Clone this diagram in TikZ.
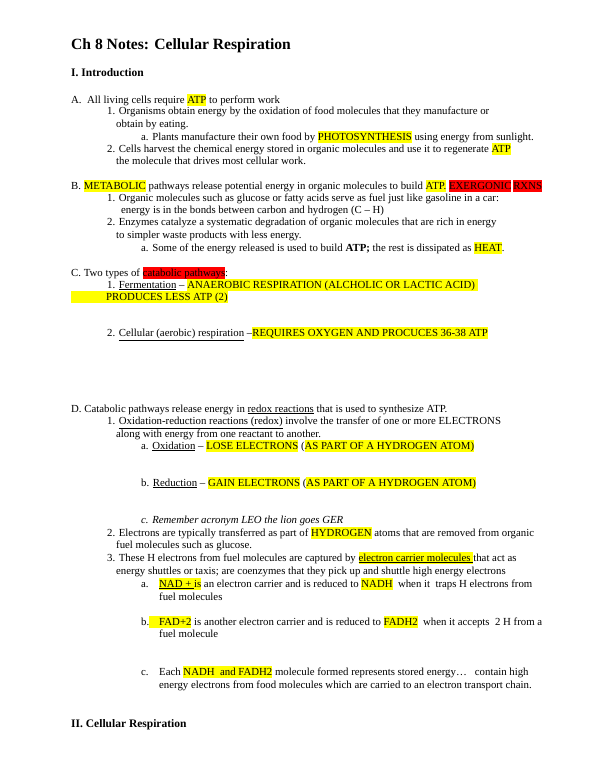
\documentclass[tikz,border=0pt]{standalone}
\usepackage{fontspec}
\setmainfont{Liberation Serif}
\definecolor{hlyellow}{RGB}{255,255,0}
\definecolor{hlred}{RGB}{255,0,0}
\newcommand{\hl}[1]{{\setlength{\fboxsep}{0pt}\colorbox{hlyellow}{\rule[-2.8pt]{0pt}{11.8pt}#1}}}
\newcommand{\hlr}[1]{{\setlength{\fboxsep}{0pt}\colorbox{hlred}{\rule[-2.8pt]{0pt}{11.8pt}#1}}}
\tikzset{
  txt/.style={anchor=base west, inner sep=0pt, font=\fontsize{10.8}{12.5}\selectfont},
  head/.style={anchor=base west, inner sep=0pt, font=\fontsize{11.5}{13}\selectfont\bfseries}
}
\begin{document}
\begin{tikzpicture}[x=1pt,y=-1pt]
    \useasboundingbox[fill=white] (0,0) rectangle (600,776);

    % Title
    \node[anchor=base west, inner sep=0pt, font=\fontsize{15.6}{18}\selectfont\bfseries] (title) at (71,50) {Ch 8 Notes: Cellular Respiration};
    \node[head] (intro) at (71,77) {I. Introduction};

    % Part A
    \node[txt] (a0) at (71,103) {A.\ \ All living cells require \hl{ATP} to perform work};
    \node[txt] (a1) at (107,114) {1. Organisms obtain energy by the oxidation of food molecules that they manufacture or};
    \node[txt] (a1b) at (116,127) {obtain by eating.};
    \node[txt] (a1a) at (141,140) {a. Plants manufacture their own food by \hl{PHOTOSYNTHESIS} using energy from sunlight.};
    \node[txt] (a2) at (107,152) {2. Cells harvest the chemical energy stored in organic molecules and use it to regenerate \hl{ATP}};
    \node[txt] (a2b) at (116,164) {the molecule that drives most cellular work.};

    % Part B
    \node[txt] (b0) at (71,189) {B. \hl{METABOLIC} pathways release potential energy in organic molecules to build \hl{ATP.}\ \hlr{EXERGONIC}\,\hlr{RXNS}};
    \node[txt] (b1) at (107,201) {1. Organic molecules such as glucose or fatty acids serve as fuel just like gasoline in a car:};
    \node[txt] (b1b) at (121,213) {energy is in the bonds between carbon and hydrogen (C -- H)};
    \node[txt] (b2) at (107,225) {2. Enzymes catalyze a systematic degradation of organic molecules that are rich in energy};
    \node[txt] (b2b) at (116,238) {to simpler waste products with less energy.};
    \node[txt] (b2a) at (141,251) {a. Some of the energy released is used to build \textbf{ATP;} the rest is dissipated as \hl{HEAT}.};

    % Part C
    \node[txt] (c0) at (71,276) {C. Two types of \hlr{catabolic pathways}:};
    \node[txt] (c1) at (107,288) {1. \underline{Fermentation} -- \hl{ANAEROBIC RESPIRATION (ALCHOLIC OR LACTIC ACID)\ }};
    \node[txt] (c1b) at (71,300) {\hl{\hspace{35pt}PRODUCES LESS ATP (2)}};
    \node[txt] (c2) at (107,336) {2. \underline{Cellular (aerobic) respiration} --\hl{REQUIRES OXYGEN AND PROCUCES 36-38 ATP}};

    % Part D
    \node[txt] (d0) at (71,412) {D. Catabolic pathways release energy in \underline{redox reactions} that is used to synthesize ATP.};
    \node[txt] (d1) at (107,424) {1. \underline{Oxidation-reduction reactions (redox)} involve the transfer of one or more ELECTRONS};
    \node[txt] (d1b) at (116,437) {along with energy from one reactant to another.};
    \node[txt] (d1a) at (141,449) {a. \underline{Oxidation} -- \hl{LOSE ELECTRONS} (\hl{AS PART OF A HYDROGEN ATOM)}};
    \node[txt] (d1r) at (141,486) {b. \underline{Reduction} -- \hl{GAIN ELECTRONS} (\hl{AS PART OF A HYDROGEN ATOM)}};
    \node[txt] (d1c) at (141,523) {\itshape c. Remember acronym LEO the lion goes GER};
    \node[txt] (d2) at (107,536) {2. Electrons are typically transferred as part of \hl{HYDROGEN} atoms that are removed from organic};
    \node[txt] (d2b) at (116,548) {fuel molecules such as glucose.};
    \node[txt] (d3) at (107,561) {3. These H electrons from fuel molecules are captured by \hl{\underline{electron carrier molecules\ }}that act as};
    \node[txt] (d3b) at (116,574) {energy shuttles or taxis; are coenzymes that they pick up and shuttle high energy electrons};

    % Carriers
    \node[txt] (e1) at (141,587) {a.};
    \node[txt] (e1t) at (159,587) {\hl{\underline{NAD + }is} an electron carrier and is reduced to \hl{NADH}\ \ when it\ \ traps H electrons from};
    \node[txt] (e1b) at (159,600) {fuel molecules};
    \node[txt] (e2) at (141,625) {b.};
    \node[txt] (e2t) at (149,625) {\hl{\hspace{10pt}FAD+2} is another electron carrier and is reduced to \hl{FADH2}\ \ when it accepts\ \ 2 H from a};
    \node[txt] (e2b) at (159,637) {fuel molecule};
    \node[txt] (e3) at (141,675) {c.};
    \node[txt] (e3t) at (159,675) {Each \hl{NADH\ \ and FADH2} molecule formed represents stored energy\dots\ \ \ contain high};
    \node[txt] (e3b) at (159,688) {energy electrons from food molecules which are carried to an electron transport chain.};

    % Part II
    \node[head] (resp) at (71,727) {II. Cellular Respiration};
\end{tikzpicture}
\end{document}
